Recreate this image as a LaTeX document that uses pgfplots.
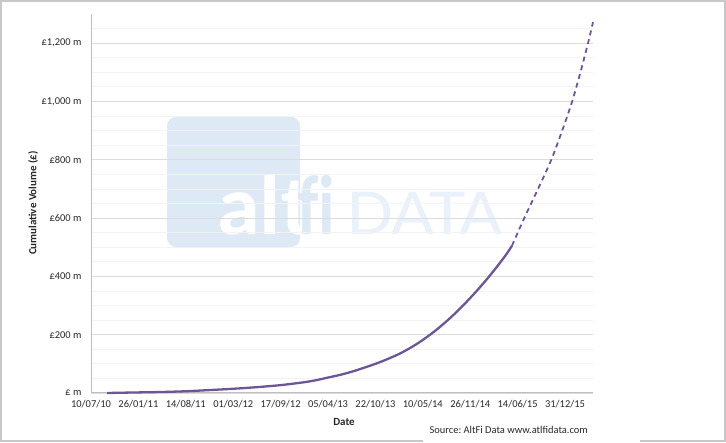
\documentclass[border=0pt]{standalone}
\usepackage{fontspec}
\setmainfont{Carlito}
\usepackage{pgfplots}
\pgfplotsset{compat=1.18}
\definecolor{linepurple}{RGB}{108,86,150}
\definecolor{axisgray}{RGB}{190,190,190}
\definecolor{gridmajor}{RGB}{220,220,220}
\definecolor{gridminor}{RGB}{243,243,243}
\definecolor{framegray}{RGB}{200,200,200}
\definecolor{labelgray}{RGB}{40,40,40}
\definecolor{wmblue}{RGB}{221,234,246}
\definecolor{wmlight}{RGB}{234,241,250}
\frenchspacing
\begin{document}
\begin{tikzpicture}[x=1bp,y=1bp]
\path[use as bounding box] (0,0) rectangle (726,443);
\draw[framegray, line width=1.5bp] (1,2) rectangle (725,442);
\fill[white] (423,0) rectangle (640,4);
% watermark
\fill[wmblue, rounded corners=9bp] (167,196) rectangle (300,326);
\node[anchor=base west, inner sep=0, text=white, font=\fontsize{85}{85}\selectfont\bfseries, xscale=1.02] at (217,208) {alt};
\node[anchor=base west, inner sep=0, text=wmblue, font=\fontsize{85}{85}\selectfont\bfseries, xscale=0.8] at (297,208) {f\kern0pt i};
\node[anchor=base west, inner sep=0, text=wmlight, font=\fontsize{66}{66}\selectfont, xscale=1.13] at (347,208) {DATA};
\begin{axis}[
  at={(91bp,50bp)}, anchor=south west,
  width=502bp, height=379bp, scale only axis,
  xmin=0, xmax=2118, ymin=0, ymax=1300,
  axis x line*=bottom, axis y line*=left,
  axis line style={-, draw=axisgray, line width=1bp},
  xtick={0,200,...,2000},
  xticklabels={10/07/10,26/01/11,14/08/11,01/03/12,17/09/12,05/04/13,22/10/13,10/05/14,26/11/14,14/06/15,31/12/15},
  ytick={0,200,...,1200},
  yticklabels={£ m,£200 m,£400 m,£600 m,£800 m,£1{,}000 m,£1{,}200 m},
  minor ytick={50,100,...,1250},
  ymajorgrids, yminorgrids,
  major grid style={draw=gridmajor, line width=0.8bp},
  minor grid style={draw=gridminor, line width=0.8bp},
  major tick length=0pt, minor tick length=0pt,
  tick label style={font=\fontsize{10.5}{12}\selectfont, text=labelgray},
  xticklabel style={yshift=-4bp},
  yticklabel style={xshift=-6bp},
  xlabel={Date}, ylabel={Cumulative Volume (£)},
  every axis x label/.style={at={(axis description cs:0.504,-0.0765)}, anchor=center, font=\fontsize{11}{13}\selectfont\bfseries, text=labelgray},
  every axis y label/.style={at={(axis description cs:-0.1155,0.501)}, rotate=90, anchor=center, font=\fontsize{11}{13}\selectfont\bfseries, text=labelgray},
  clip=false,
]
\addplot[linepurple, line width=2.3bp, smooth, tension=0.5] coordinates {
(68,0) (100,0.5) (200,2) (300,3.5) (400,6) (500,10) (600,14.5) (700,20) (800,27)
(900,37) (950,44) (1000,53) (1050,62) (1100,73) (1150,86) (1200,100) (1250,116)
(1300,134) (1350,156) (1400,182) (1450,212) (1500,246) (1550,284) (1600,326)
(1650,371) (1700,420) (1750,473) (1776,505)
};
\addplot[linepurple, line width=1.8bp, dash pattern=on 5bp off 4bp, smooth, tension=0.5] coordinates {
(1776,505) (1828,600) (1886,700) (1942,800) (1988,900) (2030,1000) (2065,1100) (2097,1200) (2118,1272)
};
\end{axis}
\node[anchor=east, inner sep=0, font=\fontsize{10.5}{12}\selectfont, text=labelgray] at (588,13) {Source: AltFi Data www.atlfidata.com};
\end{tikzpicture}
\end{document}
